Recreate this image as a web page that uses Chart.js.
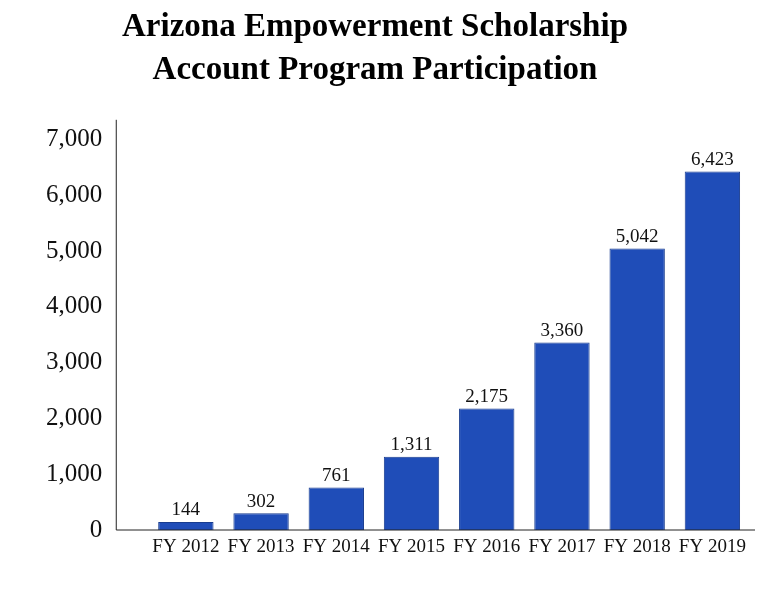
<!DOCTYPE html>
<html>
<head>
<meta charset="utf-8">
<script src="https://cdn.jsdelivr.net/npm/chart.js@4"></script>
<style>
  html, body { margin: 0; padding: 0; background: #fff; }
  #wrap { width: 768px; height: 591px; position: relative; }
</style>
</head>
<body>
<div id="wrap"><canvas id="chart" width="768" height="591"></canvas></div>
<script>
// Dati
const categories = ["FY 2012", "FY 2013", "FY 2014", "FY 2015", "FY 2016", "FY 2017", "FY 2018", "FY 2019"];
const participants = [144, 302, 761, 1311, 2175, 3360, 5042, 6423];
const yTicks = [0, 1000, 2000, 3000, 4000, 5000, 6000, 7000];
const titleLines = ["Arizona Empowerment Scholarship", "Account Program Participation"];

const serif = "'Liberation Serif', 'DejaVu Serif', serif";

// Assi disegnati a mano (linea verticale staccata dalle barre) + etichette valori
const extras = {
  id: "extras",
  afterDraw(chart) {
    const { ctx, chartArea } = chart;
    const y = chart.scales.y;
    ctx.save();
    ctx.strokeStyle = "#222";
    ctx.lineWidth = 1;
    ctx.beginPath();
    ctx.moveTo(chartArea.left - 32, chartArea.top);
    ctx.lineTo(chartArea.left - 32, y.getPixelForValue(0));
    ctx.lineTo(chartArea.right + 5, y.getPixelForValue(0));
    ctx.stroke();

    ctx.fillStyle = "#111";
    ctx.font = "19px " + serif;
    ctx.textAlign = "center";
    ctx.textBaseline = "bottom";
    chart.getDatasetMeta(0).data.forEach((bar, i) => {
      ctx.fillText(participants[i].toLocaleString("en-US"), bar.x, bar.y - 2);
    });
    ctx.restore();
  }
};

new Chart(document.getElementById("chart").getContext("2d"), {
  type: "bar",
  data: {
    labels: categories,
    datasets: [{
      data: participants,
      backgroundColor: "#1f4db8",
      borderColor: "#183c8f",
      borderWidth: 1,
      barPercentage: 0.92,
      categoryPercentage: 0.8
    }]
  },
  options: {
    responsive: false,
    animation: false,
    layout: { padding: { top: 6, right: 18, left: 0, bottom: 6 } },
    plugins: {
      legend: { display: false },
      tooltip: { enabled: false },
      title: {
        display: true,
        text: titleLines,
        color: "#000",
        font: { family: serif, size: 33, weight: "bold", lineHeight: 1.3 },
        padding: { top: 0, bottom: 28 }
      }
    },
    scales: {
      x: {
        grid: { display: false, drawTicks: false },
        border: { display: false },
        ticks: { color: "#111", font: { family: serif, size: 19 }, padding: 6, maxRotation: 0 }
      },
      y: {
        min: 0,
        max: 7350,
        grid: { display: false, drawTicks: false },
        border: { display: false },
        afterBuildTicks(axis) {
          axis.ticks = yTicks.map(v => ({ value: v }));
        },
        ticks: {
          color: "#111",
          padding: 46,
          font: { family: serif, size: 25 },
          callback: v => Number(v).toLocaleString("en-US")
        }
      }
    }
  },
  plugins: [extras]
});
</script>
</body>
</html>
